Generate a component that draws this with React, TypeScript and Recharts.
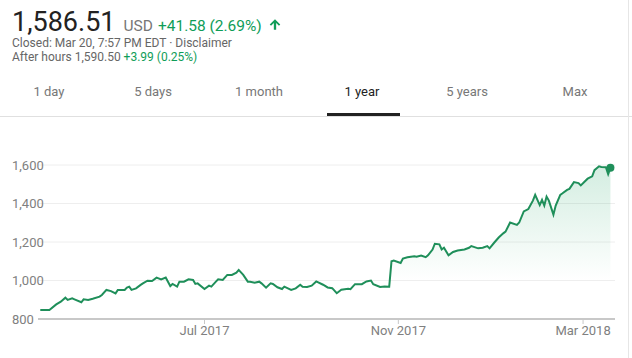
import { AreaChart, Area, XAxis, YAxis, CartesianGrid, ReferenceDot } from "recharts";

// trading-day index (0 = first session of the range) and close price
const days = [
  0, 4, 7, 9, 11, 12, 14, 15, 18, 19, 21, 23, 26, 27, 29, 31, 33, 34, 37, 38,
  39, 40, 42, 44, 45, 47, 49, 51, 53, 55, 57, 58, 60, 61, 63, 65, 67, 68, 69, 72,
  74, 75, 77, 78, 80, 82, 84, 86, 87, 89, 91, 92, 94, 96, 97, 99, 101, 102, 104, 106,
  107, 110, 112, 114, 115, 117, 119, 121, 124, 126, 128, 130, 132, 135, 136, 138, 141, 143, 145, 146,
  149, 151, 153, 154, 155, 158, 159, 161, 164, 165, 167, 169, 170, 172, 173, 175, 176, 177, 179, 181,
  183, 186, 188, 189, 192, 194, 196, 197, 199, 201, 203, 204, 206, 209, 210, 212, 214, 216, 217, 219,
  220, 221, 222, 223, 225, 226, 228, 229, 231, 232, 234, 236, 237, 240, 242, 243, 245, 246, 248, 249,
  250,
];
const prices = [
  847, 847, 876, 890, 911, 899, 907, 902, 887, 902, 899, 905, 916, 925, 951, 945, 933, 951, 951, 963,
  968, 951, 959, 977, 985, 999, 997, 1015, 1006, 1015, 971, 982, 968, 994, 994, 1006, 1003, 982, 985, 956,
  973, 968, 994, 1006, 1003, 1029, 1029, 1041, 1055, 1029, 994, 994, 989, 994, 985, 963, 985, 982, 965, 956,
  968, 951, 959, 978, 968, 966, 973, 995, 978, 964, 960, 934, 952, 957, 955, 981, 981, 995, 1000, 981,
  966, 969, 968, 1100, 1104, 1091, 1114, 1121, 1126, 1123, 1130, 1121, 1131, 1161, 1191, 1188, 1161, 1170, 1131, 1148,
  1156, 1161, 1170, 1179, 1167, 1170, 1179, 1167, 1196, 1223, 1245, 1254, 1301, 1289, 1301, 1359, 1371, 1415, 1445, 1392,
  1419, 1389, 1436, 1415, 1342, 1389, 1445, 1453, 1471, 1476, 1511, 1506, 1494, 1529, 1541, 1573, 1593, 1590, 1588, 1552,
  1586,
];

const tickDays = [72, 157, 238];
const tickLabels = ["Jul 2017", "Nov 2017", "Mar 2018"];
const yTicks = [800, 1000, 1200, 1400, 1600];
const tabs = ["1 day", "5 days", "1 month", "1 year", "5 years", "Max"];
const tabCenters = [49, 153, 259, 362, 467, 575];

const data = days.map((d, i) => ({ day: d, price: prices[i] }));
const GREEN = "#1f8f5a";
const TEXT_GREEN = "#0f9d58";

function YTick({ y, payload }: any) {
  return (
    <text x={12} y={y} dy={4.5} textAnchor="start" fill="#808080" fontSize={13} fontFamily="Roboto">
      {payload.value.toLocaleString("en-US")}
    </text>
  );
}

export default function App() {
  const last = data[data.length - 1];
  return (
    <div style={{ position: "relative", width: 632, height: 358, background: "#fff", fontFamily: "Roboto", overflow: "hidden" }}>
      <style>{`body{margin:0}`}</style>
      <div style={{ position: "absolute", left: 0, top: 0 }}>
        <AreaChart width={632} height={358} data={data} margin={{ top: 165, right: 17, bottom: 0, left: 0 }}>
          <defs>
            <linearGradient id="fillGrad" x1="0" y1="0" x2="0" y2="1">
              <stop offset="0%" stopColor="#0f9d58" stopOpacity={0.3} />
              <stop offset="75%" stopColor="#0f9d58" stopOpacity={0} />
            </linearGradient>
          </defs>
          <CartesianGrid vertical={false} stroke="#eeeeee" />
          <XAxis
            type="number"
            dataKey="day"
            domain={[-1, 252]}
            ticks={tickDays}
            tickFormatter={(v) => tickLabels[tickDays.indexOf(v)]}
            height={39}
            stroke="#c8c8c8"
            axisLine={{ stroke: "#c8c8c8", strokeWidth: 2 }}
            tickLine={{ stroke: "#c8c8c8" }}
            tickSize={5}
            tick={{ fill: "#808080", fontSize: 13, fontFamily: "Roboto" }}
          />
          <YAxis
            domain={[800, 1600]}
            ticks={yTicks}
            width={38}
            axisLine={false}
            tickLine={false}
            tick={<YTick />}
          />
          <Area
            type="linear"
            dataKey="price"
            stroke={GREEN}
            strokeWidth={2}
            fill="url(#fillGrad)"
            isAnimationActive={false}
            dot={false}
            activeDot={false}
          />
          <ReferenceDot x={last.day} y={last.price} r={4} fill={GREEN} stroke="none" />
        </AreaChart>
      </div>

      <div style={{ position: "absolute", left: 12, top: 6, whiteSpace: "nowrap", display: "flex", alignItems: "baseline" }}>
        <span style={{ fontSize: 27, color: "#222" }}>1,586.51</span>
        <span style={{ fontSize: 15.5, color: "#777", marginLeft: 8 }}>USD</span>
        <span style={{ fontSize: 15.5, color: TEXT_GREEN, marginLeft: 5 }}>+41.58 (2.69%)</span>
        <svg width="14" height="14" viewBox="0 0 24 24" style={{ marginLeft: 6 }}>
          <path d="M3 13l2.2 2.2L10 10.4V22h4V10.4l4.8 4.8L21 13 12 4z" fill={TEXT_GREEN} />
        </svg>
      </div>
      <div style={{ position: "absolute", left: 12, top: 36, fontSize: 12, color: "#666", whiteSpace: "nowrap" }}>
        Closed: Mar 20, 7:57 PM EDT · Disclaimer
      </div>
      <div style={{ position: "absolute", left: 12, top: 50, fontSize: 12, color: "#666", whiteSpace: "nowrap" }}>
        After hours 1,590.50 <span style={{ color: TEXT_GREEN }}>+3.99 (0.25%)</span>
      </div>

      {tabs.map((t, i) => (
        <div
          key={t}
          style={{
            position: "absolute",
            left: tabCenters[i] - 50,
            width: 100,
            top: 84,
            textAlign: "center",
            fontSize: 13,
            color: t === "1 year" ? "#222" : "#777",
          }}
        >
          {t}
        </div>
      ))}
      <div style={{ position: "absolute", left: 0, top: 116, width: 632, height: 1, background: "#e0e0e0" }} />
      <div style={{ position: "absolute", left: 327, top: 113, width: 73, height: 3, background: "#222" }} />
      <div style={{ position: "absolute", left: 628, top: 0, width: 1, height: 358, background: "#e6e6e6" }} />
    </div>
  );
}
